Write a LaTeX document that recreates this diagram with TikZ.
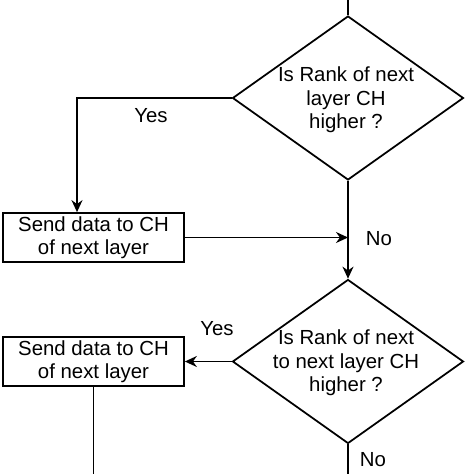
\documentclass[tikz,border=0pt]{standalone}
\usepackage{fontspec}
\setmainfont{Liberation Sans}
\usetikzlibrary{shapes.geometric,arrows.meta}

\begin{document}
\begin{tikzpicture}[x=0.02cm,y=-0.02cm,line width=1pt,
    every node/.style={font=\fontsize{11.6}{13.4}\selectfont},
    box/.style={rectangle,draw,minimum width=3.62cm,minimum height=0.98cm,align=center,inner sep=0pt},
    decision/.style={diamond,draw,minimum width=4.62cm,minimum height=3.28cm,inner sep=0pt},
    arr/.style={-{Stealth[length=2.4mm,width=2.2mm]}}]
  \useasboundingbox (0,0) rectangle (474,474);
  \coordinate (top) at (348,0);
  \node [decision] (rank1) at (348,98) {};
  \node [align=center] (rank1txt) at (346,100) {Is Rank of next\\layer CH\\higher ?};
  \node [box] (send1) at (93.5,237.5) {Send data to CH\\of next layer};
  \node [decision] (rank2) at (348,361.5) {};
  \node [align=center] (rank2txt) at (346,363) {Is Rank of next\\to next layer CH\\higher ?};
  \node [box] (send2) at (93.5,361.5) {Send data to CH\\of next layer};
  \coordinate (end1) at (93.5,474);
  \coordinate (end2) at (348,474);
  \node (yes1) at (151,116) {Yes};
  \node (no1) at (379,239) {No};
  \node (yes2) at (217,329) {Yes};
  \node (no2) at (373,460) {No};
  \draw (top) -- (rank1.north);
  \draw [arr] (rank1.west) -| ([xshift=-0.33cm]send1.north);
  \draw [arr] (send1.east) -- (send1.east -| rank1.south);
  \draw [arr] (rank1.south) -- (rank2.north);
  \draw [arr] (rank2.west) -- (send2.east);
  \draw (send2.south) -- (end1);
  \draw (rank2.south) -- (end2);
\end{tikzpicture}
\end{document}
